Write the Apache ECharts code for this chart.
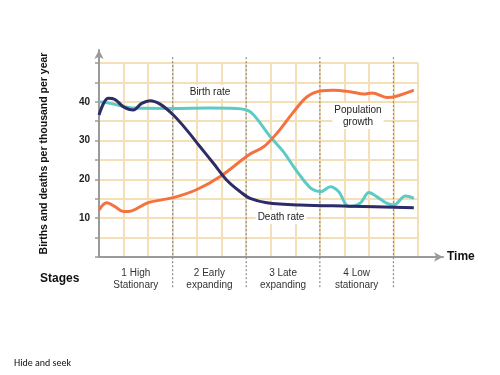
<!DOCTYPE html>
<html>
<head>
<meta charset="utf-8">
<script src="https://cdn.jsdelivr.net/npm/echarts@6/dist/echarts.min.js"></script>
<style>
  html, body { margin: 0; padding: 0; background: #fff; }
  #chart { width: 500px; height: 375px; }
</style>
</head>
<body>
<div id="chart"></div>
<script>
// data: [time, per thousand]
const birthRate = [
  [0, 40], [0.45, 39.6], [1.4, 38.4], [3, 38.3], [4.5, 38.4], [5.6, 38.3],
  [6.17, 37.4], [6.98, 31], [7.52, 27.1], [7.93, 23.3], [8.34, 19.8],
  [8.68, 17.5], [9.02, 16.8], [9.43, 18.1], [9.77, 16.8], [10.18, 13],
  [10.65, 13.9], [11, 16.6], [11.33, 15.5], [11.74, 13.8], [12.01, 13.4],
  [12.49, 15.7], [12.83, 15.1]
];
const deathRate = [
  [0, 36.6], [0.38, 40.9], [0.65, 40.6], [1.0, 38.7], [1.4, 37.9],
  [1.74, 39.6], [2.08, 40.3], [2.49, 39.4], [3.03, 36.6], [3.58, 32.7],
  [4.12, 28.4], [4.67, 24.1], [5.21, 19.8], [5.76, 16.8], [6.16, 15.1],
  [6.84, 14], [8.2, 13.4], [10.24, 13.1], [12.83, 12.7]
];
const popGrowth = [
  [0, 12.1], [0.31, 14], [0.65, 13], [1.0, 11.7], [1.33, 11.9], [2.01, 14],
  [3.03, 15.3], [3.99, 17.4], [5.02, 21.1], [6.1, 26.3], [6.71, 28.4],
  [7.25, 31.9], [7.93, 37.4], [8.48, 41.3], [9.02, 42.8], [9.56, 43],
  [10.24, 42.6], [10.79, 42], [11.13, 42.3], [11.74, 41.1], [12.15, 41.5],
  [12.83, 43]
];
const stageBreaks = [3, 6, 9, 12];
const stageCentres = [1.5, 4.5, 7.5, 10.5];
const stageNames = ["1 High\nStationary", "2 Early\nexpanding", "3 Late\nexpanding", "4 Low\nstationary"];
const yTicks = [10, 20, 30, 40];

const chart = echarts.init(document.getElementById("chart"));
const axisGrey = "#9a9a9a";
const gridTan = "#f5dfb6";
const font = "Liberation Sans, Arial, sans-serif";

const lineSeries = (name, data, color) => ({
  name: name,
  type: "line",
  data: data,
  smooth: 0.35,
  showSymbol: false,
  lineStyle: { color: color, width: 3 },
  z: 5,
});

// curve labels sit on a white patch, covering the grid
const note = (x, y, text) => ({
  type: "text", x: x, y: y, z: 100,
  style: {
    text: text, fill: "#222", font: "10px " + font, lineHeight: 12,
    align: "center", verticalAlign: "middle",
    backgroundColor: "#fff", padding: [1, 2],
  },
});

chart.setOption({
  animation: false,
  grid: [
    { left: 99, right: 82, top: 63, bottom: 118 },
    { left: 99, right: 57, top: 50, bottom: 118 },
  ],
  xAxis: [
    {
      type: "value", gridIndex: 0, min: 0, max: 13, interval: 1, position: "bottom",
      axisLine: { show: false },
      axisTick: { show: false },
      axisLabel: { show: false },
      splitLine: { show: true, lineStyle: { color: gridTan, width: 2 } },
    },
    {
      type: "value", gridIndex: 0, min: 0, max: 13, interval: 1.5, position: "bottom", offset: 0,
      axisLine: { show: false }, axisTick: { show: false }, splitLine: { show: false },
      axisLabel: {
        margin: 10, fontSize: 10, color: "#333", lineHeight: 12, fontFamily: font,
        formatter: (v) => {
          const i = stageCentres.indexOf(v);
          return i >= 0 ? stageNames[i] : "";
        },
      },
    },
    {
      type: "value", gridIndex: 1, min: 0, max: 1, position: "bottom",
      axisLine: {
        show: true, symbol: ["none", "arrow"], symbolSize: [7, 9],
        lineStyle: { color: axisGrey, width: 2 },
      },
      axisTick: { show: false }, axisLabel: { show: false }, splitLine: { show: false },
      name: "Time", nameLocation: "end", nameGap: 4,
      nameTextStyle: { fontSize: 12, fontWeight: "bold", color: "#111", fontFamily: font },
    },
  ],
  yAxis: [
    {
      type: "value", gridIndex: 0, min: 0, max: 50, interval: 5,
      axisLine: { show: false },
      axisTick: { show: true, length: 4, lineStyle: { color: axisGrey, width: 1.5 } },
      axisLabel: {
        margin: 9, fontSize: 10, fontWeight: "bold", color: "#222", fontFamily: font,
        formatter: (v) => (yTicks.includes(v) ? String(v) : ""),
      },
      splitLine: { show: true, lineStyle: { color: gridTan, width: 2 } },
    },
    {
      type: "value", gridIndex: 1, min: 0, max: 1,
      axisLine: {
        show: true, symbol: ["none", "arrow"], symbolSize: [7, 9],
        lineStyle: { color: axisGrey, width: 2 },
      },
      axisTick: { show: false }, axisLabel: { show: false }, splitLine: { show: false },
      name: "Births and deaths per thousand per year", nameLocation: "middle", nameGap: 49,
      nameTextStyle: { fontSize: 10.5, fontWeight: "bold", color: "#111", fontFamily: font },
    },
  ],
  series: [
    {
      type: "custom", xAxisIndex: 0, yAxisIndex: 0, clip: false, silent: true, z: 3,
      data: stageBreaks.map((b) => [b]),
      renderItem: (params, api) => {
        const top = api.coord([api.value(0), 51.5]);
        const bot = api.coord([api.value(0), -8]);
        return {
          type: "line",
          shape: { x1: top[0], y1: top[1], x2: bot[0], y2: bot[1] },
          style: { stroke: "#8a8a8a", lineWidth: 1.2, lineDash: [2, 2] },
        };
      },
    },
    lineSeries("Birth rate", birthRate, "#5ccbc7"),
    lineSeries("Population growth", popGrowth, "#f4723f"),
    lineSeries("Death rate", deathRate, "#2c2c68"),
  ],
  graphic: [
    { type: "text", left: 40, top: 273, style: { text: "Stages", fill: "#111", font: "bold 12px " + font } },
    note(210, 92, "Birth rate"),
    note(358, 116, "Population\ngrowth"),
    note(281, 217, "Death rate"),
    { type: "text", x: 14, y: 363, style: { text: "Hide and seek", fill: "#111", font: "10px Carlito, " + font, verticalAlign: "middle" } },
  ],
});
</script>
</body>
</html>
